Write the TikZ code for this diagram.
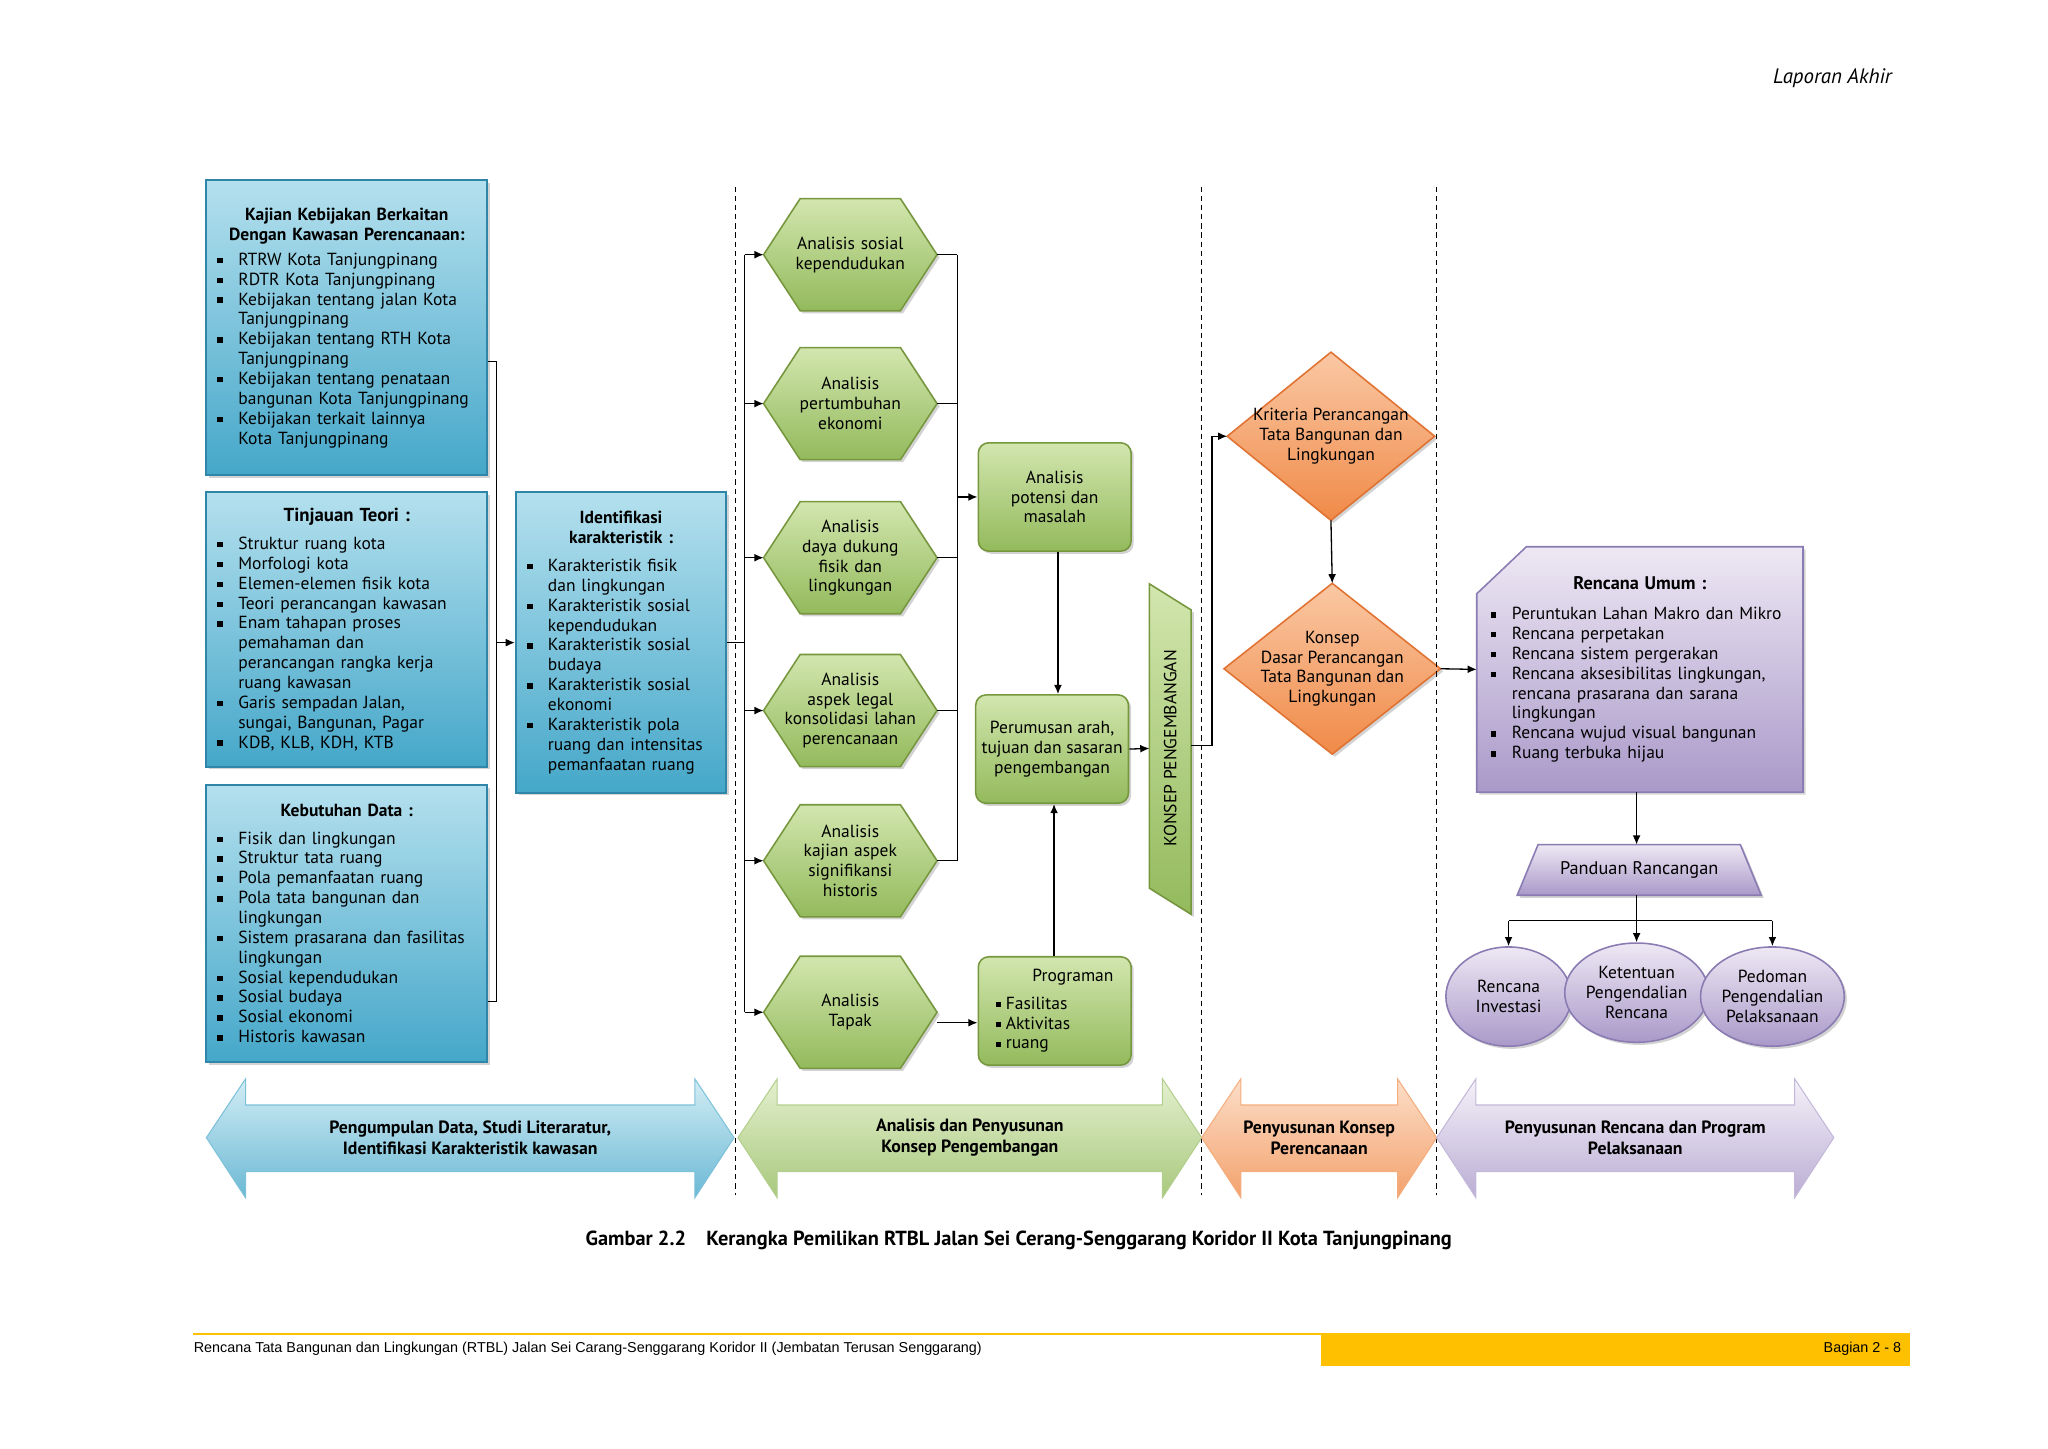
\documentclass[tikz,border=0pt]{standalone}
\usepackage{fontspec}
\setmainfont{PT Sans}
\newfontfamily\arialf{Liberation Sans}
\usetikzlibrary{arrows.meta,backgrounds,shadows,shapes.geometric}
\definecolor{tealL}{HTML}{B4E0EE}\definecolor{tealD}{HTML}{45A7C9}\definecolor{tealB}{HTML}{2F86A8}
\definecolor{grnL}{HTML}{D2E6AE}\definecolor{grnD}{HTML}{93BA5C}\definecolor{grnB}{HTML}{76973E}
\definecolor{orL}{HTML}{FAC8A4}\definecolor{orD}{HTML}{F08A48}\definecolor{orB}{HTML}{E07232}
\definecolor{puL}{HTML}{EEE8F4}\definecolor{puD}{HTML}{A999C9}\definecolor{puB}{HTML}{8A7BB2}
\definecolor{foot}{HTML}{FFC000}
\newcommand\bi{\par\hangindent=8pt\hangafter=1\noindent\makebox[8pt][l]{\rule[0.8pt]{2.1pt}{2.1pt}}}
\newcommand\nl{\hfill\break}
\newcommand\hexn[4]{\node[hexs] (#1) at (#2,#3) {#4};
\begin{pgfonlayer}{background}
\path[gfill] ([xshift=14pt]#1.north west) -- ([xshift=-14pt]#1.north east) -- (#1.east) -- ([xshift=-14pt]#1.south east) -- ([xshift=14pt]#1.south west) -- (#1.west) -- cycle;
\end{pgfonlayer}}
\newcommand\bigarr[6]{\path[draw=#4!70,top color=#3!60,bottom color=#4!80,line width=0.4pt]
 (#1,871) -- (#1+30,826) -- (#1+30,846) -- (#2-30,846) -- (#2-30,826) -- (#2,871) -- (#2-30,917) -- (#2-30,897) -- (#1+30,897) -- (#1+30,917) -- cycle;
 \node[font={\fontsize{6.8}{8.2}\selectfont\bfseries},align=center] (#5) at ({(#1+#2)/2},871) {#6};}
\begin{document}
\hyphenpenalty=10000 \exhyphenpenalty=10000
\begin{tikzpicture}[x=0.5pt,y=-0.5pt,font=\fontsize{6.7}{7.6}\selectfont,
 tbox/.style={draw=tealB,line width=0.8pt,top color=tealL,bottom color=tealD,drop shadow={opacity=0.35,shadow xshift=1pt,shadow yshift=-1pt},minimum width=107.5pt,inner xsep=4pt,text width=99pt,align=left},
 gbox/.style={draw=grnB,line width=0.6pt,rounded corners=4pt,top color=grnL,bottom color=grnD,drop shadow={opacity=0.35,shadow xshift=1pt,shadow yshift=-1pt},minimum width=58.5pt,minimum height=41.5pt,align=center,inner sep=1pt},
 hexs/.style={minimum width=66pt,minimum height=42.5pt,text width=56pt,align=center,inner sep=0pt},
 gfill/.style={draw=grnB,line width=0.6pt,top color=grnL,bottom color=grnD,drop shadow={opacity=0.35,shadow xshift=1pt,shadow yshift=-1pt}},
 ofill/.style={draw=orB,line width=0.6pt,top color=orL,bottom color=orD,drop shadow={opacity=0.35,shadow xshift=1pt,shadow yshift=-1pt}},
 pfill/.style={draw=puB,line width=0.6pt,top color=puL,bottom color=puD,drop shadow={opacity=0.35,shadow xshift=1pt,shadow yshift=-1pt}},
 arr/.style={-{Latex[length=3.5pt,width=3pt]},line width=0.5pt},
 ln/.style={line width=0.5pt},
 dsh/.style={dashed,line width=0.5pt,dash pattern=on 2pt off 1.5pt}]
\useasboundingbox (0,0) rectangle (1568,1109);
\node[font=\itshape\fontsize{8}{9}\selectfont] (hdr) at (1403,60) {Laporan Akhir};
% dashed separators
\coordinate (d1t) at (563,143); \coordinate (d1b) at (563,915);
\coordinate (d2t) at (920,143); \coordinate (d2b) at (920,915);
\coordinate (d3t) at (1100,143); \coordinate (d3b) at (1100,915);
\draw[dsh] (d1t) -- (d1b); \draw[dsh] (d2t) -- (d2b); \draw[dsh] (d3t) -- (d3b);
% left boxes
\node[tbox,minimum height=113pt] (kaj) at (265.5,251) {{\centering\textbf{Kajian Kebijakan Berkaitan\\Dengan Kawasan Perencanaan:}\par}\vspace{2pt}
\bi RTRW Kota Tanjungpinang\bi RDTR Kota Tanjungpinang\bi Kebijakan tentang jalan Kota Tanjungpinang\bi Kebijakan tentang RTH Kota Tanjungpinang\bi Kebijakan tentang penataan bangunan Kota Tanjungpinang\bi Kebijakan terkait lainnya\par\hspace*{8pt}Kota Tanjungpinang\par};
\node[tbox,minimum height=105pt] (tin) at (265.5,482) {{\centering\textbf{\fontsize{7.2}{8}\selectfont Tinjauan Teori :}\par}\vspace{3pt}
\bi Struktur ruang kota\bi Morfologi kota\bi Elemen-elemen fisik kota\bi Teori perancangan kawasan\bi Enam tahapan proses\nl pemahaman dan\nl perancangan rangka kerja\nl ruang kawasan\bi Garis sempadan Jalan,\nl sungai, Bangunan, Pagar\bi KDB, KLB, KDH, KTB\par};
\node[tbox,minimum height=106pt] (keb) at (265.5,707) {{\centering\textbf{Kebutuhan Data :}\par}\vspace{3pt}
\bi Fisik dan lingkungan\bi Struktur tata ruang\bi Pola pemanfaatan ruang\bi Pola tata bangunan dan lingkungan\bi Sistem prasarana dan fasilitas lingkungan\bi Sosial kependudukan\bi Sosial budaya\bi Sosial ekonomi\bi Historis kawasan\par};
\node[tbox,minimum width=80.5pt,text width=72pt,minimum height=115pt] (ide) at (475.5,492) {{\centering\textbf{Identifikasi\\karakteristik :}\par}\vspace{3pt}
\bi Karakteristik fisik\nl dan lingkungan\bi Karakteristik sosial\nl kependudukan\bi Karakteristik sosial\nl budaya\bi Karakteristik sosial\nl ekonomi\bi Karakteristik pola\nl ruang dan intensitas\nl pemanfaatan ruang\par};
% bracket
\coordinate (br) at (380,0);
\draw[ln] (kaj.east |- 0,277) -- (br |- 0,277) -- (br |- 0,767) -- (keb.east |- 0,767);
\draw[arr] (br |- ide.west) -- (ide.west);
% hexagons
\hexn{h1}{651}{195}{Analisis sosial\\kependudukan}
\hexn{h2}{651}{309}{Analisis\\pertumbuhan\\ekonomi}
\hexn{h3}{651}{427}{Analisis\\daya dukung\\fisik dan\\lingkungan}
\hexn{h4}{651}{544}{Analisis\\aspek legal\\konsolidasi lahan\\perencanaan}
\hexn{h5}{651}{659}{Analisis\\kajian aspek\\signifikansi\\historis}
\hexn{h6}{651}{775}{Analisis\\Tapak}
\coordinate (sp) at (570,0);
\draw[ln] (ide.east |- 0,492) -- (sp |- 0,492);
\draw[ln] (sp |- h1.west) -- (sp |- h6.west);
\foreach \h in {h1,h2,h3,h4,h5,h6} \draw[arr] (sp |- \h.west) -- (\h.west);
% green boxes
\node[gbox] (pot) at (807.5,380.5) {Analisis\\potensi dan\\masalah};
\node[gbox] (per) at (805.5,573.5) {Perumusan arah,\\tujuan dan sasaran\\pengembangan};
\node[gbox,align=left] (pro) at (807.5,774) {\hspace*{14pt}Programan\\[3pt]\rule[0.8pt]{2pt}{2pt} Fasilitas\\\rule[0.8pt]{2pt}{2pt} Aktivitas\\\rule[0.8pt]{2pt}{2pt} ruang};
\coordinate (cl) at (733,0);
\foreach \h in {h1,h2,h3,h4,h5} \draw[ln] (\h.east) -- (cl |- \h.east);
\draw[ln] (cl |- h1.east) -- (cl |- h5.east);
\draw[arr] (cl |- pot.west) -- (pot.west);
\draw[arr] (h6.east |- 0,783) -- (pro.west |- 0,783);
\draw[arr] (pot.south -| 810,0) -- (per.north -| 810,0);
\draw[arr] (pro.north -| 807,0) -- (per.south -| 807,0);
% konsep pengembangan
\path[gfill] (880,447) -- (912,467) -- (912,700) -- (880,680) -- cycle;
\node[rotate=90] (kp) at (896,573) {KONSEP PENGEMBANGAN};
\coordinate (kpL) at (880,573);
\draw[arr] (per.east) -- (kpL);
% diamonds
\node[minimum width=79pt,minimum height=64pt,inner sep=0pt,align=center] (kri) at (1019,334) {Kriteria Perancangan\\Tata Bangunan dan\\Lingkungan};
\node[minimum width=82.5pt,minimum height=65pt,inner sep=0pt,align=center] (kon) at (1020,512) {Konsep\\Dasar Perancangan\\Tata Bangunan dan\\Lingkungan};
\begin{pgfonlayer}{background}
\path[ofill] (kri.north) -- (kri.east) -- (kri.south) -- (kri.west) -- cycle;
\path[ofill] (kon.north) -- (kon.east) -- (kon.south) -- (kon.west) -- cycle;
\end{pgfonlayer}
\coordinate (kx) at (928,0);
\draw[ln] (912,571) -- (kx |- 0,571);
\draw[arr] (kx |- 0,571) -- (kx |- kri.west) -- (kri.west);
\draw[arr] (kri.south) -- (kon.north);
% rencana umum
\node[minimum width=124.5pt,minimum height=93.5pt,text width=114pt,inner sep=0pt,align=left] (ren) at (1255.5,512.5) {{\centering\textbf{\fontsize{7}{8}\selectfont Rencana Umum :}\par}\vspace{4pt}
\bi Peruntukan Lahan Makro dan Mikro\bi Rencana perpetakan\bi Rencana sistem pergerakan\bi Rencana aksesibilitas lingkungan,\nl rencana prasarana dan sarana\nl lingkungan\bi Rencana wujud visual bangunan\bi Ruang terbuka hijau\par};
\begin{pgfonlayer}{background}
\path[pfill] ([xshift=19pt]ren.north west) -- (ren.north east) -- (ren.south east) -- (ren.south west) -- ([yshift=-18pt]ren.north west) -- cycle;
\end{pgfonlayer}
\draw[arr] (kon.east) -- (ren.west);
% panduan
\node[minimum width=93pt,minimum height=19pt,inner sep=0pt] (pan) at (1255,666) {\fontsize{7}{8}\selectfont Panduan Rancangan};
\begin{pgfonlayer}{background}
\path[pfill] ([xshift=8pt]pan.north west) -- ([xshift=-8pt]pan.north east) -- (pan.south east) -- (pan.south west) -- cycle;
\end{pgfonlayer}
\draw[arr] (ren.south -| 1253,0) -- (pan.north -| 1253,0);
\node[ellipse,pfill,minimum width=48pt,minimum height=38pt,inner sep=0pt,align=center] (c1) at (1155,763) {Rencana\\Investasi};
\node[ellipse,pfill,minimum width=48pt,minimum height=38pt,inner sep=0pt,align=center] (c2) at (1253,760) {Ketentuan\\Pengendalian\\Rencana};
\node[ellipse,pfill,minimum width=48pt,minimum height=38pt,inner sep=0pt,align=center] (c3) at (1357,763) {Pedoman\\Pengendalian\\Pelaksanaan};
\coordinate (pj) at (1253,705);
\draw[ln] (pan.south -| pj) -- (pj);
\draw[ln] (c1 |- pj) -- (c3 |- pj);
\draw[arr] (c1 |- pj) -- (c1.north);
\draw[arr] (pj) -- (c2.north);
\draw[arr] (c3 |- pj) -- (c3.north);
% bottom arrows
\bigarr{158}{562}{tealL}{tealD}{b1}{Pengumpulan Data, Studi Literaratur,\\Identifikasi Karakteristik kawasan}
\bigarr{565}{920}{grnL}{grnD}{b2}{Analisis dan Penyusunan\\Konsep Pengembangan}
\bigarr{920}{1100}{orL}{orD}{b3}{Penyusunan Konsep\\Perencanaan}
\bigarr{1100}{1404}{puL}{puD}{b4}{Penyusunan Rencana dan Program\\Pelaksanaan}
% caption
\node[font={\fontsize{7.8}{9}\selectfont\bfseries}] (cap) at (780,950) {Gambar 2.2\quad Kerangka Pemilikan RTBL Jalan Sei Cerang-Senggarang Koridor II Kota Tanjungpinang};
% footer
\fill[foot] (1011,1021) rectangle (1462,1046);
\draw[foot,line width=0.8pt] (148,1021) -- (1462,1021);
\node[anchor=west,font=\arialf\fontsize{5.5}{6}\selectfont,inner sep=0pt] (ft) at (148,1033) {Rencana Tata Bangunan dan Lingkungan (RTBL) Jalan Sei Carang-Senggarang Koridor II (Jembatan Terusan Senggarang)};
\node[anchor=east,font=\arialf\fontsize{5.5}{6}\selectfont,inner sep=0pt] (pg) at (1456,1033) {Bagian 2 - 8};
\end{tikzpicture}
\end{document}
